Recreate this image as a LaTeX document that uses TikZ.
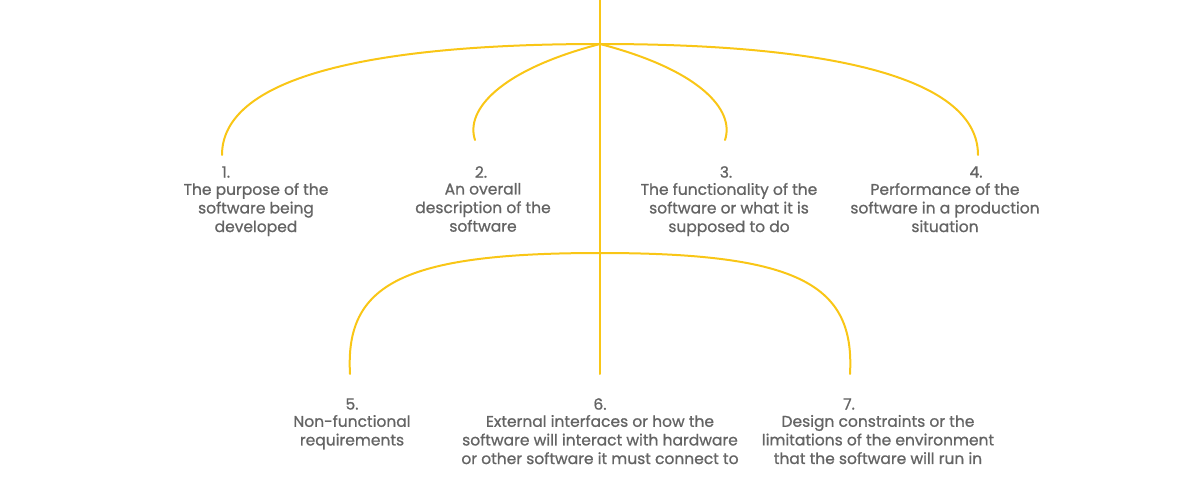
\documentclass[tikz,border=0pt]{standalone}
\usepackage{fontspec}
\setmainfont{Poppins}[FakeBold=0.9]
\definecolor{gold}{RGB}{249,198,22}
\definecolor{txtgray}{RGB}{100,100,100}
\begin{document}
\begin{tikzpicture}[x=1pt, y=-1pt, nodes = {align = center}, line width = 2pt]

  \tikzstyle{branch}=[draw, gold, line cap=round]
  \tikzstyle{num}=[txtgray, inner sep=0pt, font=\fontsize{15.5}{18.6}\selectfont]
  \tikzstyle{desc}=[txtgray, inner sep=0pt, anchor=north, font=\fontsize{15.5}{18.6}\selectfont]

  \useasboundingbox (0,0) rectangle (1200,500);

  \coordinate (top) at (600,0);
  \coordinate (hub) at (600,44);
  \coordinate (hubb) at (600,253);
  \coordinate (bot) at (600,374);

  \coordinate (e1) at (222,155);
  \coordinate (e2) at (475,140);
  \coordinate (e3) at (725,140);
  \coordinate (e4) at (978,155);
  \coordinate (e5) at (350,374);
  \coordinate (e7) at (850,374);

  \node[num] (n1) at (226,172) {1.};
  \node[num] (n2) at (481,172) {2.};
  \node[num] (n3) at (726,172) {3.};
  \node[num] (n4) at (976,172) {4.};
  \node[num] (n5) at (352,404) {5.};
  \node[num] (n6) at (600,404) {6.};
  \node[num] (n7) at (849,404) {7.};

  \node[desc] (t1) at (256,182) {The purpose of the\\software being\\developed};
  \node[desc] (t2) at (483,182) {An overall\\description of the\\software};
  \node[desc] (t3) at (729,182) {The functionality of the\\software or what it is\\supposed to do};
  \node[desc] (t4) at (945,182) {Performance of the\\software in a production\\situation};
  \node[desc] (t5) at (352,414) {Non-functional\\requirements};
  \node[desc] (t6) at (600,414) {External interfaces or how the\\software will interact with hardware\\or other software it must connect to};
  \node[desc] (t7) at (878,414) {Design constraints or the\\limitations of the environment\\that the software will run in};

  \draw[branch] (top) -- (bot);

  \draw[branch] (hub) .. controls (360,44) and (222,80) .. (e1);
  \draw[branch] (hub) .. controls (500,70) and (465,110) .. (e2);
  \draw[branch] (hub) .. controls (700,70) and (735,110) .. (e3);
  \draw[branch] (hub) .. controls (840,44) and (978,80) .. (e4);

  \draw[branch] (hubb) .. controls (400,253) and (345,285) .. (e5);
  \draw[branch] (hubb) .. controls (800,253) and (855,285) .. (e7);
\end{tikzpicture}
\end{document}
